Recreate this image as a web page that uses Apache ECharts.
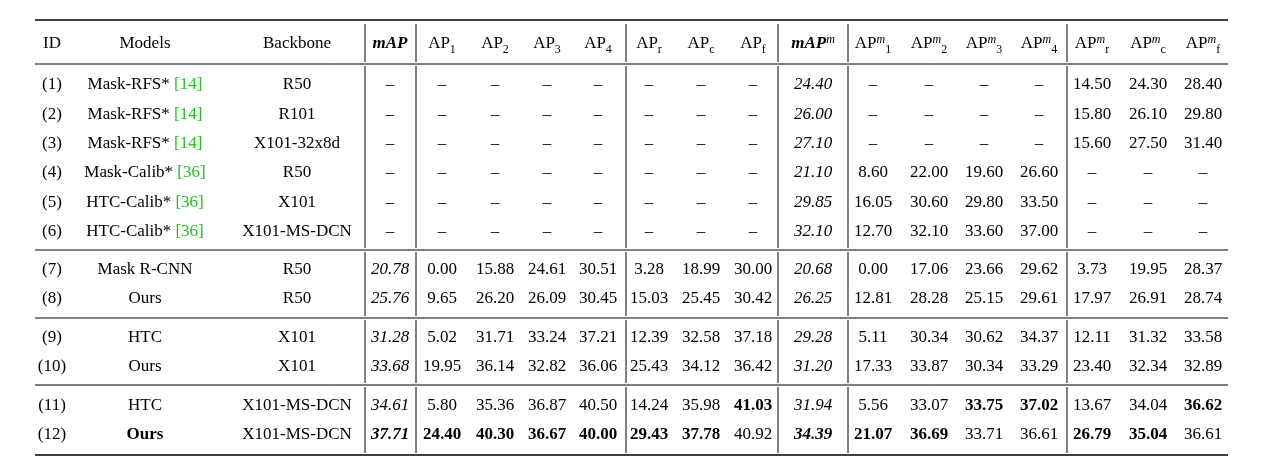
<!DOCTYPE html>
<html lang="en">
<head>
<meta charset="utf-8">
<script src="https://cdn.jsdelivr.net/npm/echarts@6/dist/echarts.min.js"></script>
<style>html,body{margin:0;background:#fff}#main{width:1264px;height:464px}</style>
</head>
<body>
<div id="main"></div>
<script>
// table content
var headers = ['ID','Models','Backbone','{bi|mAP}','AP{sub|1}','AP{sub|2}','AP{sub|3}','AP{sub|4}','AP{sub|r}','AP{sub|c}','AP{sub|f}',
  '{bi|mAP}{sup|m}','AP{sup|m}{sub|1}','AP{sup|m}{sub|2}','AP{sup|m}{sub|3}','AP{sup|m}{sub|4}','AP{sup|m}{sub|r}','AP{sup|m}{sub|c}','AP{sup|m}{sub|f}'];
var ids = ['(1)','(2)','(3)','(4)','(5)','(6)','(7)','(8)','(9)','(10)','(11)','(12)'];
var models = ['Mask-RFS* {g|[14]}','Mask-RFS* {g|[14]}','Mask-RFS* {g|[14]}','Mask-Calib* {g|[36]}','HTC-Calib* {g|[36]}','HTC-Calib* {g|[36]}',
  'Mask R-CNN','Ours','HTC','Ours','HTC','{b|Ours}'];
var backbones = ['R50','R101','X101-32x8d','R50','X101','X101-MS-DCN','R50','R50','X101','X101','X101-MS-DCN','X101-MS-DCN'];
var D = '–';
var values = [
  [D,D,D,D,D,D,D,D,'24.40',D,D,D,D,'14.50','24.30','28.40'],
  [D,D,D,D,D,D,D,D,'26.00',D,D,D,D,'15.80','26.10','29.80'],
  [D,D,D,D,D,D,D,D,'27.10',D,D,D,D,'15.60','27.50','31.40'],
  [D,D,D,D,D,D,D,D,'21.10','8.60','22.00','19.60','26.60',D,D,D],
  [D,D,D,D,D,D,D,D,'29.85','16.05','30.60','29.80','33.50',D,D,D],
  [D,D,D,D,D,D,D,D,'32.10','12.70','32.10','33.60','37.00',D,D,D],
  ['20.78','0.00','15.88','24.61','30.51','3.28','18.99','30.00','20.68','0.00','17.06','23.66','29.62','3.73','19.95','28.37'],
  ['25.76','9.65','26.20','26.09','30.45','15.03','25.45','30.42','26.25','12.81','28.28','25.15','29.61','17.97','26.91','28.74'],
  ['31.28','5.02','31.71','33.24','37.21','12.39','32.58','37.18','29.28','5.11','30.34','30.62','34.37','12.11','31.32','33.58'],
  ['33.68','19.95','36.14','32.82','36.06','25.43','34.12','36.42','31.20','17.33','33.87','30.34','33.29','23.40','32.34','32.89'],
  ['34.61','5.80','35.36','36.87','40.50','14.24','35.98','41.03','31.94','5.56','33.07','33.75','37.02','13.67','34.04','36.62'],
  ['37.71','24.40','40.30','36.67','40.00','29.43','37.78','40.92','34.39','21.07','36.69','33.71','36.61','26.79','35.04','36.61']
];
// bold cells [row, value column]
var bold = [[10,7],[10,11],[10,12],[10,15],
  [11,0],[11,1],[11,2],[11,3],[11,4],[11,5],[11,6],[11,8],[11,9],[11,10],[11,13],[11,14]];
var italicCols = [0, 8];

// layout
var colX = [52,145,297,390,442,495,547,598,649,701,753,813,873,929,984,1039,1092,1148,1203];
var headerY = 44;
var rowY = [85,115,144,173,203,232,270,299,338,367,406,435];
var hRules = [[20,1.6],[64,1],[250,1],[318,1],[385,1],[455,1.6]];
var vRules = [365,416,626,778,848,1067];
var tableLeft = 35, tableRight = 1228;

function isBold(r, c) {
  return bold.some(function (b) { return b[0] === r && b[1] === c; });
}
var cells = [];
headers.forEach(function (h, c) { cells.push([colX[c], headerY, h]); });
rowY.forEach(function (y, r) {
  cells.push([colX[0], y, ids[r]]);
  cells.push([colX[1], y, models[r]]);
  cells.push([colX[2], y, backbones[r]]);
  values[r].forEach(function (v, c) {
    var it = italicCols.indexOf(c) >= 0 && v !== D;
    var b = isBold(r, c);
    var s = v;
    if (b && it) s = '{bi|' + v + '}';
    else if (b) s = '{b|' + v + '}';
    else if (it) s = '{i|' + v + '}';
    cells.push([colX[c + 3], y, s]);
  });
});

var F = 'Liberation Serif';
var rich = {
  b: {fontWeight: 'bold', fontSize: 17, fontFamily: F, fill: '#000'},
  i: {fontStyle: 'italic', fontSize: 17, fontFamily: F, fill: '#000'},
  bi: {fontWeight: 'bold', fontStyle: 'italic', fontSize: 17, fontFamily: F, fill: '#000'},
  g: {fill: '#22c322', fontSize: 17, fontFamily: F},
  sub: {fontSize: 12, padding: [11, 0, 0, 0], fontFamily: F, fill: '#000'},
  sup: {fontSize: 12, padding: [0, 0, 9, 0], fontFamily: F, fontStyle: 'italic', fill: '#000'}
};

var ruleData = hRules.map(function (h) { return [tableLeft, h[0], tableRight, h[0], h[1]]; });
vRules.forEach(function (x) {
  ruleData.push([x, 24, x, 62, 1]);
  ruleData.push([x, 66, x, 248, 1]);
  ruleData.push([x, 252, x, 316, 1]);
  ruleData.push([x, 320, x, 383, 1]);
  ruleData.push([x, 387, x, 453, 1]);
});

var chart = echarts.init(document.getElementById('main'));
chart.setOption({
  animation: false,
  backgroundColor: '#fff',
  grid: {left: 0, right: 0, top: 0, bottom: 0},
  xAxis: {type: 'value', min: 0, max: 1264, show: false},
  yAxis: {type: 'value', min: 0, max: 464, inverse: true, show: false},
  series: [{
    type: 'custom',
    data: ruleData,
    renderItem: function (params, api) {
      var p1 = api.coord([api.value(0), api.value(1)]);
      var p2 = api.coord([api.value(2), api.value(3)]);
      return {type: 'line', shape: {x1: p1[0], y1: p1[1], x2: p2[0], y2: p2[1]},
        style: {stroke: '#000', lineWidth: api.value(4)}};
    }
  }, {
    type: 'custom',
    data: cells,
    renderItem: function (params, api) {
      var p = api.coord([api.value(0), api.value(1)]);
      return {type: 'text', x: p[0], y: p[1],
        style: {text: cells[params.dataIndex][2], rich: rich, fill: '#000',
          font: '17px "Liberation Serif"', align: 'center', verticalAlign: 'middle'}};
    }
  }]
});
</script>
</body>
</html>
